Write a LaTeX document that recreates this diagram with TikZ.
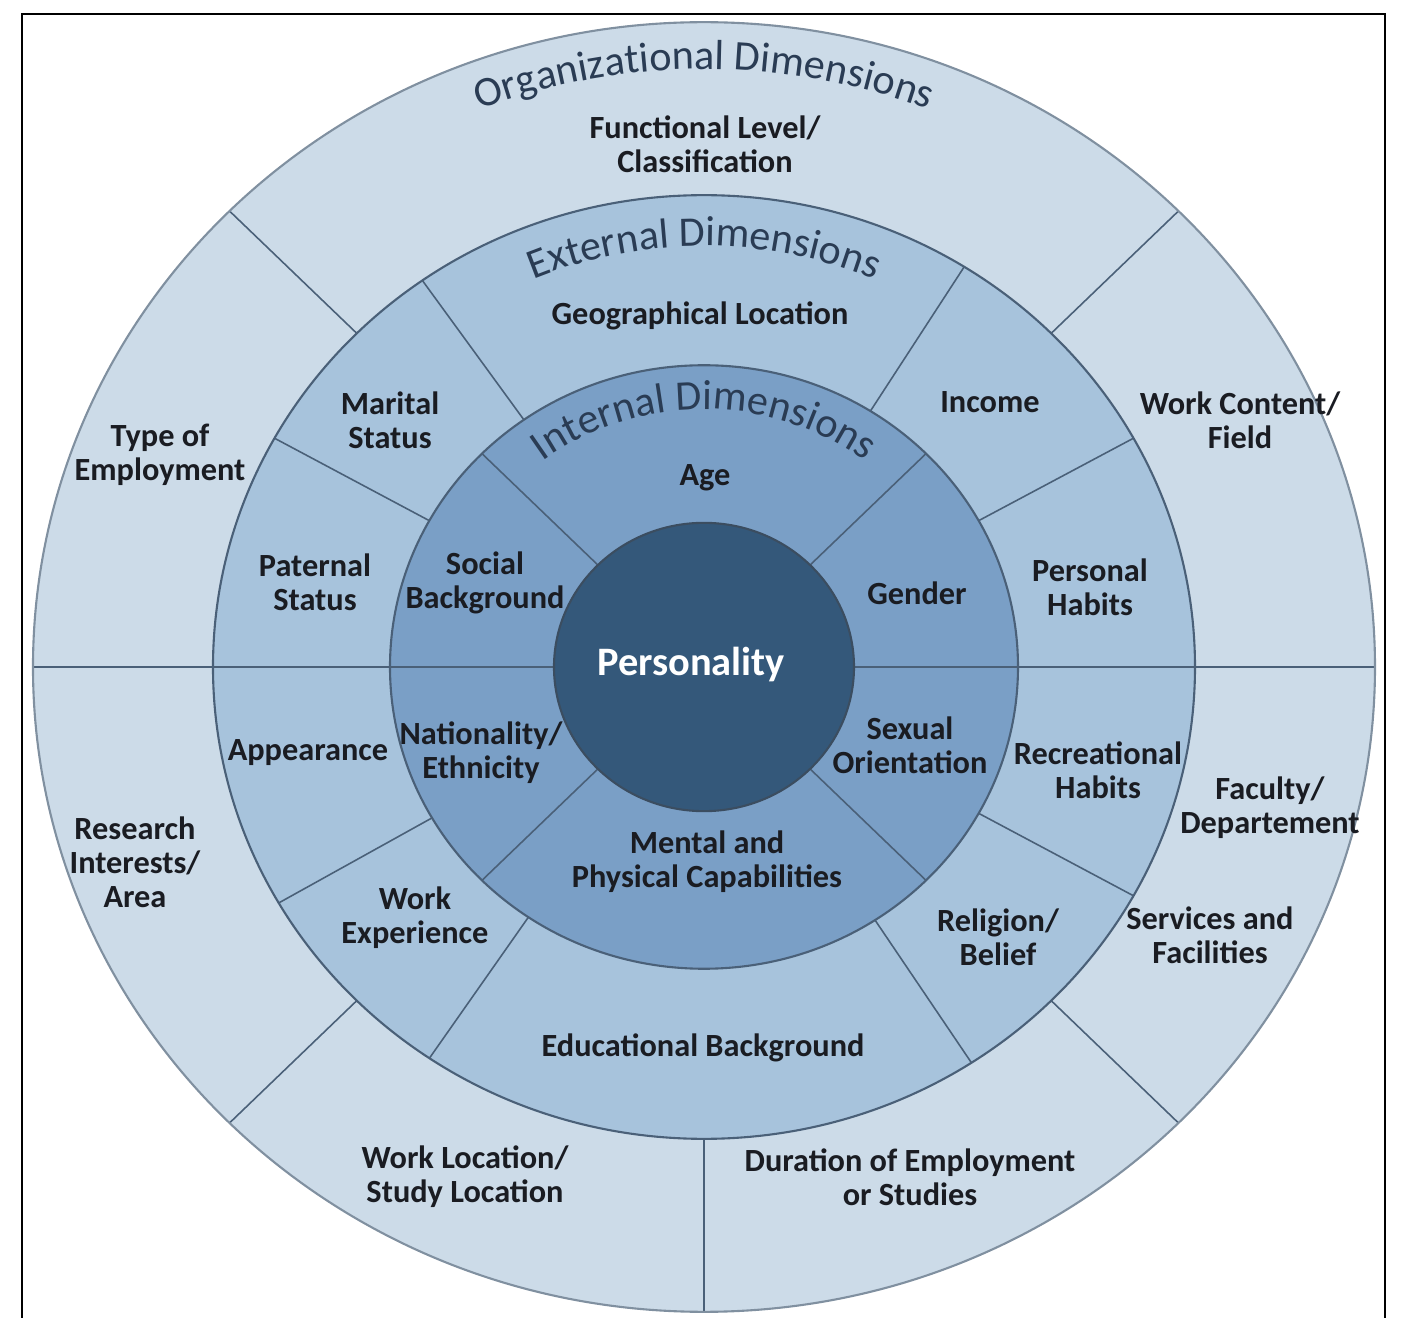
\documentclass[tikz,border=0pt]{standalone}
\usepackage{fontspec}
\setmainfont{Carlito}
\usetikzlibrary{decorations.text}

\definecolor{orgfill}{RGB}{204,219,232}
\definecolor{extfill}{RGB}{167,195,220}
\definecolor{intfill}{RGB}{122,159,198}
\definecolor{perfill}{RGB}{52,88,122}
\definecolor{ringline}{RGB}{74,96,120}
\definecolor{titlecol}{RGB}{42,60,84}
\definecolor{labelcol}{RGB}{26,28,34}

\tikzset{
  lbl/.style={align=center,inner sep=0pt,text=labelcol,font=\bfseries\fontsize{18.4}{19.4}\selectfont},
  divider/.style={draw=ringline,line width=0.9pt},
  ringedge/.style={draw=ringline,line width=1.2pt},
}

% curved ring title: radius, text
\newcommand{\ringtitle}[2]{%
  \path[decorate,decoration={text along path,text align=center,text color=titlecol,
    text={|\fontsize{24}{24}\selectfont|#2}}]
    (160:#1) arc[start angle=160,end angle=20,radius=#1];
}

\begin{document}
\begin{tikzpicture}[x=0.02cm,y=0.02cm]
\useasboundingbox (-704,-651) rectangle (699,667);

\begin{scope}[yscale=0.961]
  % rings
  \fill[orgfill] (0,0) circle (671);
  \fill[extfill] (0,0) circle (491);
  \fill[intfill] (0,0) circle (314);
  % dividers
  \draw[divider] (180:671) -- (0:671);
  \foreach \a in {45,135,225,270,315}
    \draw[divider] (\a:491) -- (\a:671);
  \foreach \a in {29,58,125,151,210,236,303,331}
    \draw[divider] (\a:314) -- (\a:491);
  \foreach \a in {45,135,225,315}
    \draw[divider] (\a:150) -- (\a:314);
  % ring edges
  \draw[draw=ringline!70,line width=1.2pt] (0,0) circle (671);
  \draw[ringedge] (0,0) circle (491);
  \draw[ringedge] (0,0) circle (314);
  \filldraw[fill=perfill,draw=ringline!80!black,line width=1.2pt] (0,0) circle (150);
  % titles
  \ringtitle{622}{Organizational Dimensions}
  \ringtitle{438}{External Dimensions}
  \ringtitle{268}{Internal Dimensions}
\end{scope}

% frame
\draw[line width=1.2pt] (-682,-651) -- (-682,653) -- (681,653) -- (681,-651);

% organizational dimensions
\node[lbl] (func) at (1,523) {Functional Level/\\Classification};
\node[lbl] (typeemp) at (-544,212) {Type of\\Employment};
\node[lbl] (workcont) at (536,247) {Work Content/\\Field};
\node[lbl] (research) at (-569,-195) {Research\\Interests/\\Area};
\node[lbl] (faculty) at (566,-141) {Faculty/\\Departement};
\node[lbl] (services) at (506,-268) {Services and\\Facilities};
\node[lbl] (workloc) at (-239,-510) {Work Location/\\Study Location};
\node[lbl] (duration) at (206,-510) {Duration of Employment\\or Studies};

% external dimensions
\node[lbl] (geo) at (-4,351) {Geographical Location};
\node[lbl] (marital) at (-314,247) {Marital\\Status};
\node[lbl] (income) at (286,265) {Income};
\node[lbl] (paternal) at (-389,85) {Paternal\\Status};
\node[lbl] (habits) at (386,80) {Personal\\Habits};
\node[lbl] (appear) at (-396,-86) {Appearance};
\node[lbl] (recr) at (394,-103) {Recreational\\Habits};
\node[lbl] (workexp) at (-289,-251) {Work\\Experience};
\node[lbl] (religion) at (294,-270) {Religion/\\Belief};
\node[lbl] (edu) at (-1,-381) {Educational Background};

% internal dimensions
\node[lbl] (age) at (1,189) {Age};
\node[lbl] (social) at (-219,84) {Social\\Background};
\node[lbl] (gender) at (213,74) {Gender};
\node[lbl] (nation) at (-223,-86) {Nationality/\\Ethnicity};
\node[lbl] (sexual) at (206,-78) {Sexual\\Orientation};
\node[lbl] (mental) at (3,-195) {Mental and\\Physical Capabilities};

% core
\node[inner sep=0pt,text=white,font=\bfseries\fontsize{23}{23}\selectfont] (person) at (-13,2) {Personality};
\end{tikzpicture}
\end{document}
